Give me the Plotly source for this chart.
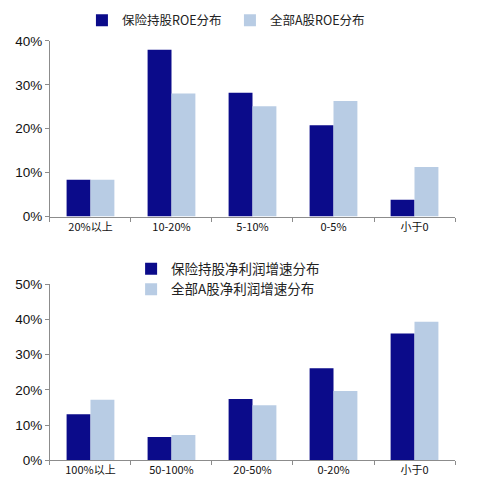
import plotly.graph_objects as go

# Top chart: ROE distribution
roe_categories = ["20%以上", "10-20%", "5-10%", "0-5%", "小于0"]
roe_insurance = [8.4, 38.0, 28.2, 20.8, 3.8]
roe_all_a = [8.4, 28.0, 25.1, 26.3, 11.3]
roe_names = ["保险持股ROE分布", "全部A股ROE分布"]

# Bottom chart: net profit growth distribution
growth_categories = ["100%以上", "50-100%", "20-50%", "0-20%", "小于0"]
growth_insurance = [13.1, 6.6, 17.4, 26.1, 36.0]
growth_all_a = [17.2, 7.2, 15.6, 19.7, 39.3]
growth_names = ["保险持股净利润增速分布", "全部A股净利润增速分布"]

DARK = "#0B0B8A"
LIGHT = "#B8CCE4"
AXIS = "#8C8C8C"
CJK = "Noto Sans CJK SC, Liberation Sans, Arial, sans-serif"
LAT = "Liberation Sans, Arial, sans-serif"

fig = go.Figure()

fig.add_trace(go.Bar(x=roe_categories, y=roe_insurance, name=roe_names[0],
                     marker=dict(color=DARK, line=dict(width=0)),
                     xaxis="x", yaxis="y", legend="legend"))
fig.add_trace(go.Bar(x=roe_categories, y=roe_all_a, name=roe_names[1],
                     marker=dict(color=LIGHT, line=dict(width=0)),
                     xaxis="x", yaxis="y", legend="legend"))
fig.add_trace(go.Bar(x=growth_categories, y=growth_insurance, name=growth_names[0],
                     marker=dict(color=DARK, line=dict(width=0)),
                     xaxis="x2", yaxis="y2", legend="legend2"))
fig.add_trace(go.Bar(x=growth_categories, y=growth_all_a, name=growth_names[1],
                     marker=dict(color=LIGHT, line=dict(width=0)),
                     xaxis="x2", yaxis="y2", legend="legend2"))

xcommon = dict(showline=True, linecolor=AXIS, linewidth=1, ticks="outside",
               tickson="boundaries", ticklen=4, tickcolor=AXIS, showgrid=False,
               tickfont=dict(family=CJK, size=11, color="#111111"), zeroline=False)
ycommon = dict(showline=True, linecolor=AXIS, linewidth=1, ticks="outside",
               ticklen=4, tickcolor=AXIS, showgrid=False, zeroline=False,
               ticksuffix="%", tickfont=dict(family=LAT, size=13.5, color="#111111"))

fig.update_layout(
    width=482, height=500,
    margin=dict(l=0, r=0, t=0, b=0),
    paper_bgcolor="white", plot_bgcolor="white",
    barmode="group", bargap=0.41, bargroupgap=0,
    showlegend=True,
    xaxis=dict(domain=[0.1037, 0.944], anchor="y", **xcommon),
    yaxis=dict(domain=[0.568, 0.93], anchor="x", range=[0, 40], dtick=10, **ycommon),
    xaxis2=dict(domain=[0.1037, 0.944], anchor="y2", **xcommon),
    yaxis2=dict(domain=[0.0654, 0.4286], anchor="x2", range=[0, 50], dtick=10, **ycommon),
    legend=dict(orientation="h", x=0.17, y=0.972, xanchor="left", yanchor="middle",
                font=dict(family=CJK, size=12.5, color="#222222"),
                itemwidth=30, entrywidth=103, entrywidthmode="pixels",
                bgcolor="rgba(0,0,0,0)"),
    legend2=dict(orientation="v", x=0.272, y=0.492, xanchor="left", yanchor="top",
                 font=dict(family=CJK, size=13.5, color="#222222"),
                 itemwidth=30, tracegroupgap=0, bgcolor="rgba(0,0,0,0)"),
)

fig.write_html("out.html")
